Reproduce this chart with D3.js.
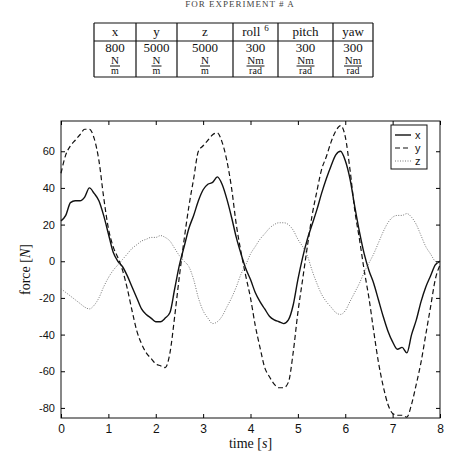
<!DOCTYPE html>
<html><head><meta charset="utf-8">
<script src="https://cdn.jsdelivr.net/npm/d3@7"></script>
<style>body{margin:0;background:#fff}svg{display:block}</style>
</head><body>
<svg id="c" width="474" height="464"></svg>
<script>
const headers = ["x", "y", "z", "roll", "pitch", "yaw"];
const stiffness = ["800", "5000", "5000", "300", "300", "300"];
const unitsNum = ["N", "N", "N", "Nm", "Nm", "Nm"];
const unitsDen = ["m", "m", "m", "rad", "rad", "rad"];

const time = d3.range(81).map(i => i / 10);
const forceX = [22,25,32,33,33,35,40,37,33,25,15,5,0,-3,-8,-14,-20,-26,-29,-31,-33,-33,-31,-28,-15,-2,8,18,25,33,39,42,43,46,42,34,24,13,4,-4,-10,-17,-22,-26,-30,-32,-33,-34,-32,-24,-10,2,12,20,28,37,45,52,58,60,55,45,30,16,4,-5,-12,-21,-30,-38,-44,-48,-47,-50,-40,-32,-22,-14,-8,-2,0];
const forceY = [48,58,63,66,69,72,72,67,55,35,18,8,2,-5,-15,-27,-38,-45,-50,-53,-56,-57,-58,-50,-30,-8,12,30,45,60,63,66,69,70,65,55,40,20,5,-8,-20,-35,-47,-58,-63,-67,-69,-69,-66,-50,-28,-10,8,25,38,50,57,65,71,74,68,50,28,12,-5,-20,-38,-55,-68,-78,-83,-84,-84,-85,-78,-67,-55,-40,-25,-10,-2];
const forceZ = [-15,-17,-19,-21,-23,-25,-26,-24,-20,-14,-9,-5,-2,1,4,7,9,11,12,13,13,14,13,11,7,3,0,-3,-10,-20,-27,-31,-34,-33,-30,-25,-20,-14,-7,-2,4,8,12,15,18,20,21,21,20,17,12,8,3,-5,-12,-18,-22,-25,-28,-29,-27,-22,-17,-12,-6,-1,4,10,16,21,24,25,25,26,24,20,14,8,4,0,-1];
const xTicks = [0,1,2,3,4,5,6,7,8];
const yTicks = [-80,-60,-40,-20,0,20,40,60];

const svg = d3.select("#c");

// title, mostly cut off at the top of the scan
svg.append("text").attr("x", 240).attr("y", 7).attr("text-anchor", "middle")
  .attr("font-family", "Liberation Serif").attr("font-size", 9).attr("fill", "#444")
  .attr("letter-spacing", 1).text("FOR EXPERIMENT # A");

// stiffness table
const colX = [94, 136, 177, 233, 278, 333, 373];
const tTop = 23, tMid = 41, tBot = 77;
const tg = svg.append("g").attr("stroke", "#111").attr("stroke-width", 1.2);
tg.append("line").attr("x1", colX[0]).attr("x2", colX[6]).attr("y1", tTop).attr("y2", tTop);
tg.append("line").attr("x1", colX[0]).attr("x2", colX[6]).attr("y1", tMid).attr("y2", tMid);
tg.append("line").attr("x1", colX[0]).attr("x2", colX[6]).attr("y1", tBot).attr("y2", tBot);
colX.forEach(x => tg.append("line").attr("x1", x).attr("x2", x).attr("y1", tTop).attr("y2", tBot));
const ft = svg.append("g").attr("font-family", "Liberation Serif").attr("fill", "#111").attr("text-anchor", "middle");
headers.forEach((h, i) => {
  const cx = (colX[i] + colX[i + 1]) / 2;
  const t = ft.append("text").attr("x", cx).attr("y", 36).attr("font-size", 13).text(h);
  if (h === "roll") t.append("tspan").attr("dx", 4).attr("dy", -5).attr("font-size", 9).text("6");
  ft.append("text").attr("x", cx).attr("y", 52).attr("font-size", 13).text(stiffness[i]);
  ft.append("text").attr("x", cx).attr("y", 64).attr("font-size", 11).text(unitsNum[i]);
  const w = unitsNum[i].length * 8 + 2;
  svg.append("line").attr("x1", cx - w / 2).attr("x2", cx + w / 2).attr("y1", 66).attr("y2", 66).attr("stroke", "#111");
  ft.append("text").attr("x", cx).attr("y", 74).attr("font-size", 10).text(unitsDen[i]);
});

// plot
const L = 61, R = 440, T = 121, B = 418;
const x = d3.scaleLinear().domain([0, 8]).range([L, R]);
const y = d3.scaleLinear().domain([-85.5, 76.5]).range([B, T]);

const g = svg.append("g");
g.append("rect").attr("x", L).attr("y", T).attr("width", R - L).attr("height", B - T)
  .attr("fill", "none").attr("stroke", "#111").attr("stroke-width", 1);

const fmt = d => d < 0 ? "-" + Math.abs(d) : d;
g.append("g").attr("transform", `translate(0,${B})`)
  .call(d3.axisBottom(x).tickValues(xTicks).tickSize(-4).tickPadding(6).tickFormat(fmt))
  .call(a => { a.select(".domain").remove(); a.selectAll("text").attr("font-family", "Liberation Sans").attr("font-size", 12).attr("fill", "#111"); });
g.append("g").attr("transform", `translate(0,${T})`)
  .call(d3.axisTop(x).tickValues(xTicks).tickSize(-4).tickFormat(""))
  .call(a => a.select(".domain").remove());
g.append("g").attr("transform", `translate(${L},0)`)
  .call(d3.axisLeft(y).tickValues(yTicks).tickSize(-4).tickPadding(6).tickFormat(fmt))
  .call(a => { a.select(".domain").remove(); a.selectAll("text").attr("font-family", "Liberation Sans").attr("font-size", 11).attr("fill", "#111"); });
g.append("g").attr("transform", `translate(${R},0)`)
  .call(d3.axisRight(y).tickValues(yTicks).tickSize(-4).tickFormat(""))
  .call(a => a.select(".domain").remove());

const series = [
  { name: "x", vals: forceX, dash: null, color: "#111", w: 1.4 },
  { name: "y", vals: forceY, dash: "5,3", color: "#111", w: 1.2 },
  { name: "z", vals: forceZ, dash: "1,1.5", color: "#777", w: 1 }
];
const line = d3.line().x((d, i) => x(time[i])).y(d => y(d)).curve(d3.curveMonotoneX);
series.forEach(s => {
  g.append("path").attr("d", line(s.vals)).attr("fill", "none")
    .attr("stroke", s.color).attr("stroke-width", s.w).attr("stroke-dasharray", s.dash);
});

// legend
const lg = g.append("g");
lg.append("rect").attr("x", 391).attr("y", 125).attr("width", 36).attr("height", 44)
  .attr("fill", "#fff").attr("stroke", "#111");
series.forEach((s, i) => {
  const yy = 135 + i * 13;
  lg.append("line").attr("x1", 395).attr("x2", 411).attr("y1", yy).attr("y2", yy)
    .attr("stroke", s.color).attr("stroke-width", s.w).attr("stroke-dasharray", s.dash);
  lg.append("text").attr("x", 415).attr("y", yy + 4).attr("font-family", "Liberation Sans")
    .attr("font-size", 11).attr("fill", "#111").text(s.name);
});

// axis labels
const ax = svg.append("g").attr("font-family", "Liberation Serif").attr("font-size", 14).attr("fill", "#111").attr("text-anchor", "middle");
const yl = ax.append("text").attr("transform", `translate(30,${(T + B) / 2}) rotate(-90)`);
yl.append("tspan").text("force [");
yl.append("tspan").attr("font-style", "italic").text("N");
yl.append("tspan").text("]");
const xl = ax.append("text").attr("x", (L + R) / 2).attr("y", 448);
xl.append("tspan").text("time [");
xl.append("tspan").attr("font-style", "italic").text("s");
xl.append("tspan").text("]");
</script>
</body></html>
